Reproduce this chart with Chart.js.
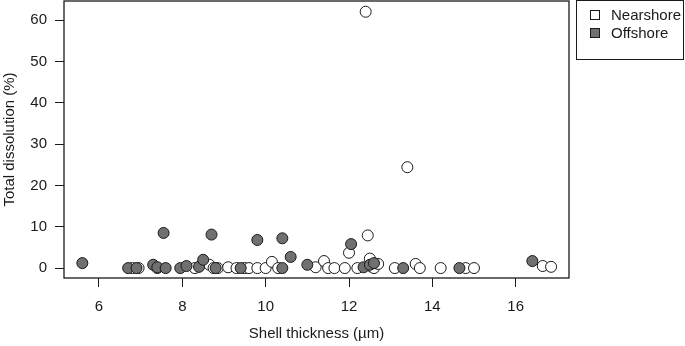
<!DOCTYPE html>
<html>
<head>
<meta charset="utf-8">
<script src="https://cdn.jsdelivr.net/npm/chart.js@4/dist/chart.umd.min.js"></script>
<style>
  html, body { margin: 0; padding: 0; background: #fff; }
</style>
</head>
<body>
<canvas id="chart" width="685" height="346"></canvas>
<script>
// ==== Data ====
const xTicks = [6, 8, 10, 12, 14, 16];
const yTicks = [0, 10, 20, 30, 40, 50, 60];

const offshoreX = [5.6, 6.7, 6.9, 7.3, 7.4, 7.55, 7.6, 7.95, 8.1, 8.4, 8.5, 8.7, 8.8, 9.4, 9.8, 10.4, 10.4, 10.6, 11.0, 12.05, 12.35, 12.5, 12.6, 13.3, 14.65, 16.4];
const offshoreY = [1.2, 0, 0, 0.8, 0.2, 8.5, 0, 0, 0.5, 0.3, 2.0, 8.1, 0, 0, 6.8, 7.2, 0, 2.7, 0.8, 5.8, 0.2, 0.8, 1.2, 0, 0, 1.7];

const nearshoreX = [6.8, 6.95, 7.4, 8.3, 8.65, 8.75, 8.85, 9.1, 9.3, 9.5, 9.6, 9.8, 10.0, 10.15, 10.3, 11.2, 11.4, 11.5, 11.65, 11.9, 12.0, 12.2, 12.4, 12.45, 12.5, 12.55, 12.6, 12.7, 13.1, 13.4, 13.6, 13.7, 14.2, 14.8, 15.0, 16.65, 16.85];
const nearshoreY = [0, 0, 0, 0, 0.8, 0, 0, 0.2, 0, 0, 0, 0, 0, 1.5, 0, 0.2, 1.7, 0, 0, 0, 3.7, 0, 62, 7.9, 2.3, 0.3, 0, 1.0, 0, 24.4, 1.0, 0, 0, 0, 0, 0.5, 0.3];

const seriesNames = ["Nearshore", "Offshore"];

const toPoints = (xs, ys) => xs.map((x, i) => ({ x, y: ys[i] }));

const FONT = "'Liberation Sans', Arial, sans-serif";
const INK = "#1a1a1a";
const GREY = "#707070";

// ==== Box round the plot + boxed legend (R style) ====
const frame = {
  id: "frame",
  afterDraw(chart) {
    const { ctx, chartArea: a } = chart;
    ctx.save();
    ctx.strokeStyle = INK;
    ctx.lineWidth = 1.3;
    ctx.strokeRect(a.left, a.top, a.right - a.left, a.bottom - a.top);

    // legend
    ctx.lineWidth = 1;
    ctx.strokeRect(576.5, 0.5, 107, 59);
    ctx.font = `15px ${FONT}`;
    ctx.textBaseline = "middle";
    const fills = ["#ffffff", GREY];
    seriesNames.forEach((name, i) => {
      const y = 15 + i * 18;
      ctx.fillStyle = fills[i];
      ctx.fillRect(590, y - 4.5, 9, 9);
      ctx.strokeStyle = INK;
      ctx.strokeRect(590.5, y - 4.5, 9, 9);
      ctx.fillStyle = INK;
      ctx.fillText(name, 611, y + 1);
    });
    ctx.restore();
  }
};

new Chart(document.getElementById("chart"), {
  type: "scatter",
  data: {
    datasets: [
      {
        label: seriesNames[1],
        data: toPoints(offshoreX, offshoreY),
        backgroundColor: GREY,
        borderColor: INK,
        borderWidth: 1,
        pointRadius: 5.5
      },
      {
        label: seriesNames[0],
        data: toPoints(nearshoreX, nearshoreY),
        backgroundColor: "#ffffff",
        borderColor: INK,
        borderWidth: 1,
        pointRadius: 5.5
      }
    ]
  },
  options: {
    responsive: false,
    animation: false,
    layout: { autoPadding: false, padding: { top: 1, right: 116, left: 0, bottom: 0 } },
    plugins: { legend: { display: false }, tooltip: { enabled: false } },
    scales: {
      x: {
        type: "linear",
        min: 5.16,
        max: 17.28,
        afterBuildTicks: s => { s.ticks = xTicks.map(v => ({ value: v })); },
        afterFit: s => { s.height = 68; s.paddingLeft = 0; s.paddingRight = 0; },
        grid: { drawOnChartArea: false, drawTicks: true, tickLength: 9, color: INK, lineWidth: 1 },
        border: { display: false },
        ticks: { color: INK, font: { family: FONT, size: 15 }, padding: 11, maxRotation: 0 },
        title: { display: true, text: "Shell thickness (µm)", color: INK, font: { family: FONT, size: 15 }, padding: { top: 4, bottom: 3 } }
      },
      y: {
        type: "linear",
        min: -2.4,
        max: 64.6,
        afterBuildTicks: s => { s.ticks = yTicks.map(v => ({ value: v })); },
        afterFit: s => { s.width = 64; s.paddingTop = 0; s.paddingBottom = 0; },
        grid: { drawOnChartArea: false, drawTicks: true, tickLength: 9, color: INK, lineWidth: 1 },
        border: { display: false },
        ticks: { color: INK, font: { family: FONT, size: 15 }, padding: 8 },
        title: { display: true, text: "Total dissolution (%)", color: INK, font: { family: FONT, size: 15 }, padding: { top: 1, bottom: 0 } }
      }
    }
  },
  plugins: [frame]
});
</script>
</body>
</html>
